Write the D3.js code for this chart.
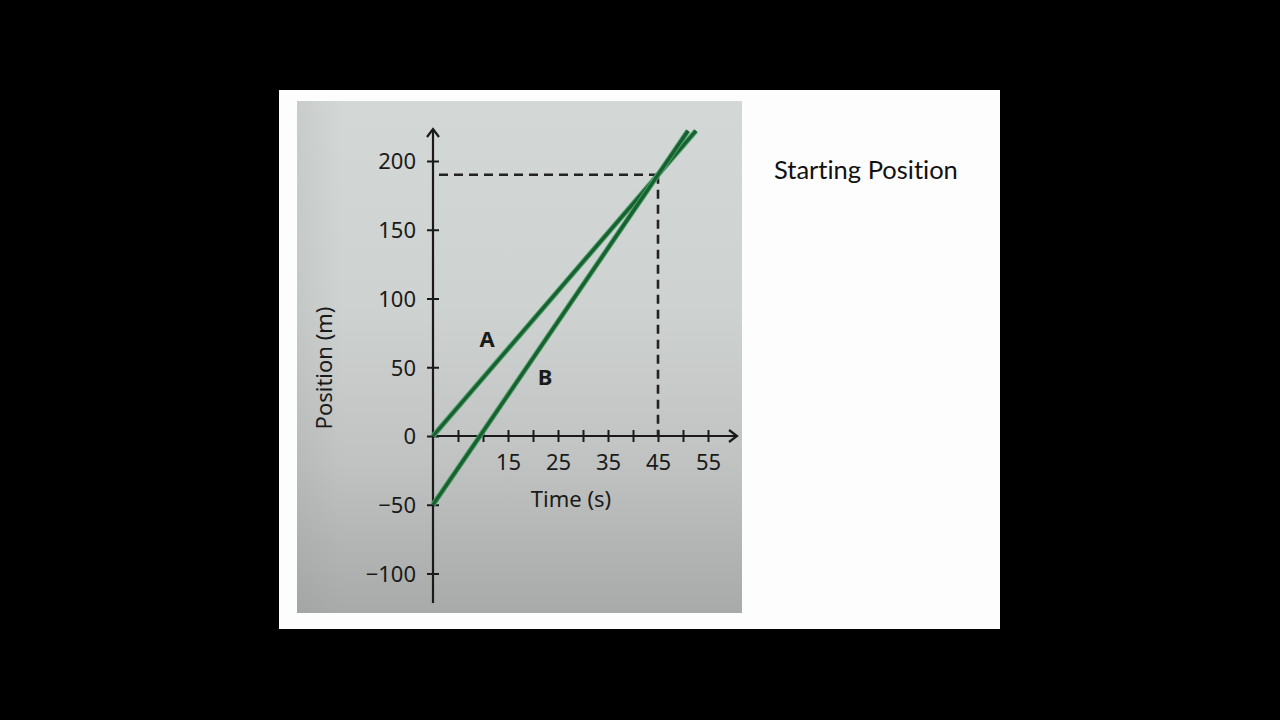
<!DOCTYPE html>
<html>
<head>
<meta charset="utf-8">
<script src="https://cdn.jsdelivr.net/npm/d3@7"></script>
<style>
  html, body { margin: 0; padding: 0; background: #000; }
  svg { display: block; }
</style>
</head>
<body>
<svg id="chart" width="1280" height="720"></svg>
<script>
// ---- data ----
const xTickValues = [5, 10, 15, 20, 25, 30, 35, 40, 45, 50, 55];
const xTickLabels = [15, 25, 35, 45, 55];
const yTickValues = [-100, -50, 0, 50, 100, 150, 200];
const lineATimes = [0, 45, 52.6];
const lineAPositions = [0, 190, 222];
const lineBTimes = [0, 9.4, 45, 51];
const lineBPositions = [-50, 0, 190, 222];
const meetTime = 45;
const meetPosition = 190;
const lineLabels = ["A", "B"];
const xTitle = "Time (s)";
const yTitle = "Position (m)";
const slideTitle = "Starting Position";

// ---- drawing ----
const svg = d3.select("#chart");
const defs = svg.append("defs");

// slide
svg.append("rect").attr("x", 0).attr("y", 0).attr("width", 1280).attr("height", 720).attr("fill", "#000");
svg.append("rect").attr("x", 279).attr("y", 90).attr("width", 721).attr("height", 539).attr("fill", "#fdfdfd");

// photo background
const g1 = defs.append("linearGradient").attr("id", "photoV").attr("x1", 0).attr("y1", 0).attr("x2", 0).attr("y2", 1);
[["0%", "#d3d7d6"], ["40%", "#ced2d1"], ["70%", "#c0c3c2"], ["100%", "#a8aaaa"]].forEach(s =>
  g1.append("stop").attr("offset", s[0]).attr("stop-color", s[1]));
const g2 = defs.append("linearGradient").attr("id", "photoH").attr("x1", 0).attr("y1", 0).attr("x2", 1).attr("y2", 0);
[["0%", "#8a8c8c", 0.15], ["10%", "#8a8c8c", 0.0], ["100%", "#ffffff", 0.0]].forEach(s =>
  g2.append("stop").attr("offset", s[0]).attr("stop-color", s[1]).attr("stop-opacity", s[2]));
svg.append("rect").attr("x", 297).attr("y", 101).attr("width", 445).attr("height", 512).attr("fill", "url(#photoV)");
svg.append("rect").attr("x", 297).attr("y", 101).attr("width", 445).attr("height", 512).attr("fill", "url(#photoH)");

// scales
const x = d3.scaleLinear().domain([0, 60]).range([433, 733]);
const y = d3.scaleLinear().domain([-100, 200]).range([573.5, 161]);

const ink = "#1a1a1a";
const font = "'Noto Sans', 'Open Sans', sans-serif";

// axes lines with arrows
const axisG = svg.append("g");
axisG.append("line").attr("x1", x(0)).attr("x2", 737).attr("y1", y(0)).attr("y2", y(0))
  .attr("stroke", ink).attr("stroke-width", 2.2);
axisG.append("line").attr("x1", x(0)).attr("x2", x(0)).attr("y1", 603).attr("y2", 129)
  .attr("stroke", ink).attr("stroke-width", 2.2);
axisG.append("path").attr("d", `M${737 - 8},${y(0) - 6} L737,${y(0)} L${737 - 8},${y(0) + 6}`)
  .attr("fill", "none").attr("stroke", ink).attr("stroke-width", 2.2);
axisG.append("path").attr("d", `M${x(0) - 6},${129 + 8} L${x(0)},129 L${x(0) + 6},${129 + 8}`)
  .attr("fill", "none").attr("stroke", ink).attr("stroke-width", 2.2);

// x axis ticks
const xAxis = d3.axisBottom(x).tickValues(xTickValues).tickSize(12).tickPadding(8)
  .tickFormat(d => xTickLabels.includes(d) ? d : "");
const xg = svg.append("g").attr("transform", `translate(0,${y(0)})`).call(xAxis);
xg.attr("font-size", null).attr("font-family", null);
xg.select(".domain").remove();
xg.selectAll(".tick line").attr("y1", -6).attr("y2", 6).attr("stroke", ink).attr("stroke-width", 2);
xg.selectAll(".tick text").attr("y", 18).attr("dy", "0.71em").attr("fill", ink)
  .style("font-family", font).style("font-size", "22px");

// y axis ticks
const yAxis = d3.axisLeft(y).tickValues(yTickValues).tickSize(12).tickFormat(d3.format("d"));
const yg = svg.append("g").attr("transform", `translate(${x(0)},0)`).call(yAxis);
yg.attr("font-size", null).attr("font-family", null);
yg.select(".domain").remove();
yg.selectAll(".tick line").attr("x1", -6).attr("x2", 6).attr("stroke", ink).attr("stroke-width", 2);
yg.selectAll(".tick text").attr("x", -17).attr("dy", "0.36em").attr("fill", ink)
  .style("font-family", font).style("font-size", "22px");

// dashed guides
const dash = svg.append("g").attr("stroke", "#222").attr("stroke-width", 2.6).attr("stroke-dasharray", "9,6").attr("fill", "none");
dash.append("line").attr("x1", x(0) + 6).attr("x2", x(meetTime)).attr("y1", y(meetPosition)).attr("y2", y(meetPosition));
dash.append("line").attr("x1", x(meetTime)).attr("x2", x(meetTime)).attr("y1", y(meetPosition)).attr("y2", y(0));

// lines
const lineGen = d3.line().x(d => x(d[0])).y(d => y(d[1]));
const seriesA = lineATimes.map((t, i) => [t, lineAPositions[i]]);
const seriesB = lineBTimes.map((t, i) => [t, lineBPositions[i]]);
[seriesA, seriesB].forEach(s => {
  svg.append("path").attr("d", lineGen(s)).attr("fill", "none")
    .attr("stroke", "#4f9e6c").attr("stroke-width", 5.2).attr("stroke-linecap", "butt");
  svg.append("path").attr("d", lineGen(s)).attr("fill", "none")
    .attr("stroke", "#17612f").attr("stroke-width", 3.2).attr("stroke-linecap", "butt");
});

// line labels
svg.append("text").attr("x", 487).attr("y", 347).attr("text-anchor", "middle")
  .style("font-family", font).style("font-size", "22px").style("font-weight", "bold").attr("fill", ink).text(lineLabels[0]);
svg.append("text").attr("x", 545).attr("y", 385).attr("text-anchor", "middle")
  .style("font-family", font).style("font-size", "22px").style("font-weight", "bold").attr("fill", ink).text(lineLabels[1]);

// axis titles
svg.append("text").attr("x", 571).attr("y", 507).attr("text-anchor", "middle")
  .style("font-family", font).style("font-size", "22px").attr("fill", ink).text(xTitle);
svg.append("text").attr("transform", "translate(332,368) rotate(-90)").attr("text-anchor", "middle")
  .style("font-family", font).style("font-size", "22px").attr("fill", ink).text(yTitle);

// slide title
svg.append("text").attr("x", 774).attr("y", 179)
  .style("font-family", "Lato, 'Open Sans', sans-serif").style("font-size", "25.5px")
  .style("font-variant-ligatures", "none").attr("fill", "#111").text(slideTitle);
</script>
</body>
</html>
